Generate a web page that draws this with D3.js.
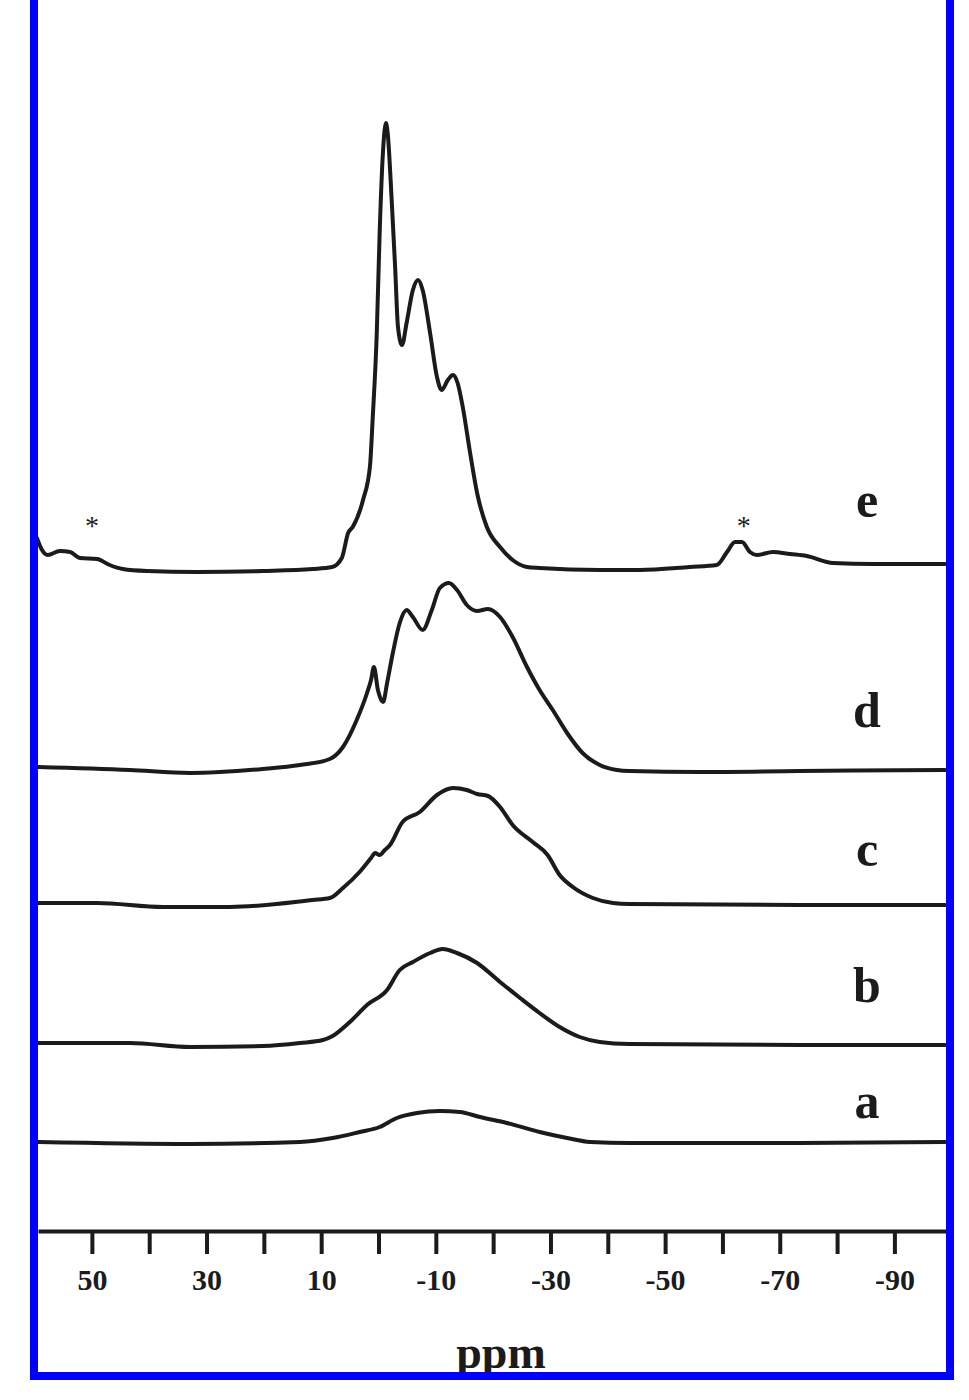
<!DOCTYPE html>
<html>
<head>
<meta charset="utf-8">
<script src="https://cdn.jsdelivr.net/npm/d3@7"></script>
<style>
  html, body { margin: 0; padding: 0; background: #fff; }
  svg { display: block; }
</style>
</head>
<body>
<div id="nmr"><svg></svg></div>
<script>
// spectra: [ppm, intensity], baseline ~ 0
var specA = [[59.6,0],[32.9,-2],[13.7,0],[8.0,4],[3.3,10],[-0.2,15],[-3.2,24],[-6.7,29],[-10.7,31],
  [-14.2,30],[-17.7,25],[-22.4,19],[-28.1,10],[-32.9,4],[-36.9,0],[-43.8,-1],[-73.5,-1],[-98.8,0]];

var specB = [[59.6,1],[43.4,1],[32.9,-3],[20.2,-2],[13.7,1],[9.7,4],[8.0,8],[5.0,22],[2.0,39],[-1.5,54],
  [-3.7,74],[-6.0,82],[-9.0,91],[-11.2,95],[-13.7,91],[-17.2,81],[-21.2,62],[-24.7,46],[-28.1,31],
  [-31.6,17],[-35.1,7],[-38.6,2],[-43.8,0],[-73.5,-1],[-98.8,-1]];

var specC = [[59.6,1],[49.1,1],[37.6,-3],[25.9,-3],[11.5,4],[8.5,6],[6.2,16],[3.3,32],[1.3,46],[0.6,51],
  [-0.2,49],[-1.1,54],[-2.0,59],[-4.2,82],[-7.2,92],[-10.2,109],[-13.0,116],[-15.4,114],[-17.2,110],
  [-19.1,108],[-21.2,97],[-23.4,79],[-26.9,62],[-29.5,49],[-31.6,29],[-33.9,17],[-37.4,6],[-40.9,1],
  [-43.8,0],[-73.5,-1],[-98.8,-1]];

var specD = [[59.6,2],[43.4,-1],[32.9,-4],[20.2,0],[13.7,4],[8.5,10],[6.2,22],[3.8,49],[2.0,76],[1.3,89],
  [0.8,102],[0.1,79],[-0.8,67],[-1.5,86],[-2.5,116],[-3.7,146],[-4.9,159],[-6.0,152],[-7.7,139],
  [-9.3,159],[-10.7,181],[-12.3,186],[-13.7,179],[-15.4,164],[-17.2,158],[-19.1,160],[-21.2,152],
  [-23.4,132],[-25.9,102],[-28.1,79],[-30.4,59],[-32.9,36],[-35.6,16],[-38.6,4],[-41.6,-1],[-43.8,-2],
  [-56.1,-3],[-73.5,-2],[-98.8,-1]];

var specE = [[59.6,30],[58.7,18],[57.7,13],[55.6,17],[53.8,16],[52.1,10],[49.1,9],[46.9,3],[44.6,-1],
  [40.4,-3],[31.7,-4],[20.2,-3],[11.5,-1],[8.1,1],[6.4,10],[5.3,35],[4.5,41],[2.7,68],[1.5,101],
  [1.0,151],[0.3,235],[-0.2,335],[-0.8,418],[-1.3,445],[-1.6,435],[-2.3,368],[-2.9,301],[-3.4,241],
  [-4.1,223],[-4.9,245],[-6.0,278],[-6.9,288],[-7.7,278],[-9.0,235],[-10.2,191],[-11.0,178],
  [-12.1,188],[-13.0,193],[-13.8,185],[-14.7,161],[-15.9,118],[-17.2,75],[-18.9,41],[-21.2,21],
  [-23.4,8],[-25.9,1],[-28.1,0],[-38.6,-2],[-45.6,-2],[-54.3,1],[-59.0,3],[-60.8,16],[-62.2,26],
  [-63.4,26],[-64.8,16],[-66.0,13],[-68.8,16],[-71.8,14],[-74.7,12],[-79.3,5],[-86.2,4],[-98.8,4]];

var spectra = [specA, specB, specC, specD, specE];
var spectrumNames = ["a", "b", "c", "d", "e"];
var stackOffsets = [89, 187, 327, 462, 663];

var tickValues = [50, 40, 30, 20, 10, 0, -10, -20, -30, -40, -50, -60, -70, -80, -90];
var tickLabels = ["50", "", "30", "", "10", "", "-10", "", "-30", "", "-50", "", "-70", "", "-90"];
var starPpm = [50, -63.7];
var axisTitle = "ppm";

(function () {
  var W = 969, H = 1400;
  var left = 38, right = 946, axisY = 1231;
  var ink = "#1b1b1b";
  var serif = "'Liberation Serif', 'Times New Roman', serif";

  var svg = d3.select("#nmr svg").attr("width", W).attr("height", H);

  var x = d3.scaleLinear().domain([59.4, -99]).range([left, right]);
  var y = d3.scaleLinear().domain([0, 1000]).range([axisY, axisY - 1000]);

  svg.append("defs").append("clipPath").attr("id", "plotclip")
    .append("rect").attr("x", left).attr("y", 0).attr("width", right - left).attr("height", axisY);

  var line = d3.line()
    .x(function(d) { return x(d[0]); })
    .y(function(d) { return y(d[1]); })
    .curve(d3.curveMonotoneX);

  var g = svg.append("g").attr("clip-path", "url(#plotclip)");
  spectra.forEach(function(s, i) {
    var off = stackOffsets[i];
    g.append("path")
      .datum(s.map(function(p) { return [p[0], p[1] + off]; }))
      .attr("fill", "none")
      .attr("stroke", ink)
      .attr("stroke-width", 4)
      .attr("stroke-linejoin", "round")
      .attr("stroke-linecap", "round")
      .attr("d", line);
  });

  // spectrum letters (baseline offsets above each trace)
  var labelLift = [24, 42, 38, 42, 51];
  svg.selectAll("text.name")
    .data(spectrumNames)
    .enter().append("text")
    .attr("class", "name")
    .attr("x", 867)
    .attr("y", function(d, i) { return y(stackOffsets[i]) - labelLift[i]; })
    .attr("text-anchor", "middle")
    .style("font-family", serif)
    .style("font-weight", "bold")
    .style("font-size", "50px")
    .attr("fill", ink)
    .text(function(d) { return d; });

  // spinning sideband markers over trace e
  svg.selectAll("text.star")
    .data(starPpm)
    .enter().append("text")
    .attr("class", "star")
    .attr("x", function(d) { return x(d); })
    .attr("y", 535)
    .attr("text-anchor", "middle")
    .style("font-family", serif)
    .style("font-size", "28px")
    .attr("fill", ink)
    .text("*");

  var axis = svg.append("g")
    .attr("transform", "translate(0," + axisY + ")")
    .call(d3.axisBottom(x)
      .tickValues(tickValues)
      .tickSizeInner(23)
      .tickSizeOuter(0)
      .tickFormat(function(d, i) { return tickLabels[i]; }));

  axis.select(".domain").attr("stroke", ink).attr("stroke-width", 4);
  axis.selectAll(".tick line").attr("stroke", ink).attr("stroke-width", 4);
  axis.selectAll(".tick text")
    .attr("y", 59)
    .attr("dy", null)
    .attr("fill", ink)
    .style("font-family", serif)
    .style("font-weight", "bold")
    .style("font-size", "30px");

  svg.append("text")
    .attr("x", 501)
    .attr("y", 1368)
    .attr("text-anchor", "middle")
    .style("font-family", serif)
    .style("font-weight", "bold")
    .style("font-size", "46px")
    .attr("fill", ink)
    .text(axisTitle);

  // blue frame, top edge cut off like the scan
  svg.append("path")
    .attr("d", "M34,-10V1376H950V-10")
    .attr("fill", "none")
    .attr("stroke", "#0000ff")
    .attr("stroke-width", 8);
})();
</script>
</body>
</html>
